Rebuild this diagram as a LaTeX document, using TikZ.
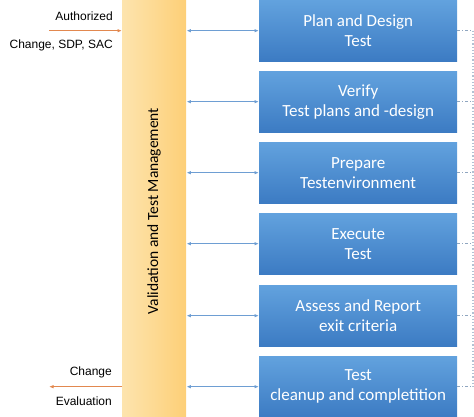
\documentclass[tikz,border=0pt]{standalone}
\usepackage{fontspec}
\setmainfont{Carlito}
\newfontfamily\arialf{Liberation Sans}
\usetikzlibrary{arrows.meta}
\definecolor{boxtop}{HTML}{62A2DE}
\definecolor{boxbot}{HTML}{3C7BC3}
\definecolor{barleft}{HTML}{FDE4AE}
\definecolor{barright}{HTML}{FDCF77}
\definecolor{linkblue}{HTML}{6E9ED3}
\definecolor{orangeline}{HTML}{E2884F}
\definecolor{dashgrey}{HTML}{8FA6C0}
\begin{document}
\begin{tikzpicture}[x=1pt,y=-1pt,
  stage/.style={minimum width=198pt, minimum height=61pt, inner sep=0pt,
    top color=boxtop, bottom color=boxbot, draw=none, text=white,
    font=\fontsize{17}{20}\selectfont, align=center, anchor=north west},
  barbox/.style={minimum width=64pt, minimum height=417pt, inner sep=0pt,
    left color=barleft, right color=barright, draw=none, anchor=north west},
  linkarrow/.style={draw=linkblue, line width=0.9pt,
    {Latex[length=4.5pt,width=3.5pt]}-{Latex[length=4.5pt,width=3.5pt]}},
  orangearrow/.style={draw=orangeline, line width=1.1pt, -{Latex[length=4.5pt,width=3.5pt]}},
  sidelabel/.style={font=\arialf\fontsize{12}{14}\selectfont, anchor=east, inner sep=0pt},
  dashlink/.style={draw=dashgrey, line width=0.7pt, dash pattern=on 3pt off 2pt on 1pt off 2pt},
  dotline/.style={draw=dashgrey!70, line width=1.2pt, dotted}
]
\useasboundingbox (0,0) rectangle (474,417);

\node[barbox] (vtm) at (122,0) {};
\node[rotate=90, font=\fontsize{15.5}{17}\selectfont] (vtmlabel) at (154,211) {Validation and Test Management};

\node[stage] (s1) at (259,0)   {Plan and Design\\Test};
\node[stage] (s2) at (259,71)  {Verify\\Test plans and -design};
\node[stage] (s3) at (259,142) {Prepare\\Testenvironment};
\node[stage] (s4) at (259,213) {Execute\\Test};
\node[stage] (s5) at (259,285) {Assess and Report\\exit criteria};
\node[stage] (s6) at (259,356) {Test\\cleanup and completition};

\foreach \s in {s1,s2,s3,s4,s5,s6}{
  \draw[linkarrow] (vtm.east |- \s.west) -- (\s.west);
  \coordinate (\s r) at (471,0 |- \s.east);
  \draw[dashlink] (\s.east) -- (\s r);
}
\coordinate (dtop) at (473,0 |- s1.east);
\coordinate (dbot) at (473,0 |- s6.east);
\draw[dotline] (dtop) -- (dbot);

\coordinate (inl) at (49,0 |- s1.west);
\draw[orangearrow] (inl) -- (vtm.west |- inl);
\node[sidelabel] (auth) at (113,16) {Authorized};
\node[sidelabel] (chg) at (113,45) {Change, SDP, SAC};

\coordinate (outl) at (49,0 |- s6.west);
\draw[orangearrow] (vtm.west |- outl) -- (outl);
\node[sidelabel] (chg2) at (112,372) {Change};
\node[sidelabel] (eval) at (112,401) {Evaluation};
\end{tikzpicture}
\end{document}
